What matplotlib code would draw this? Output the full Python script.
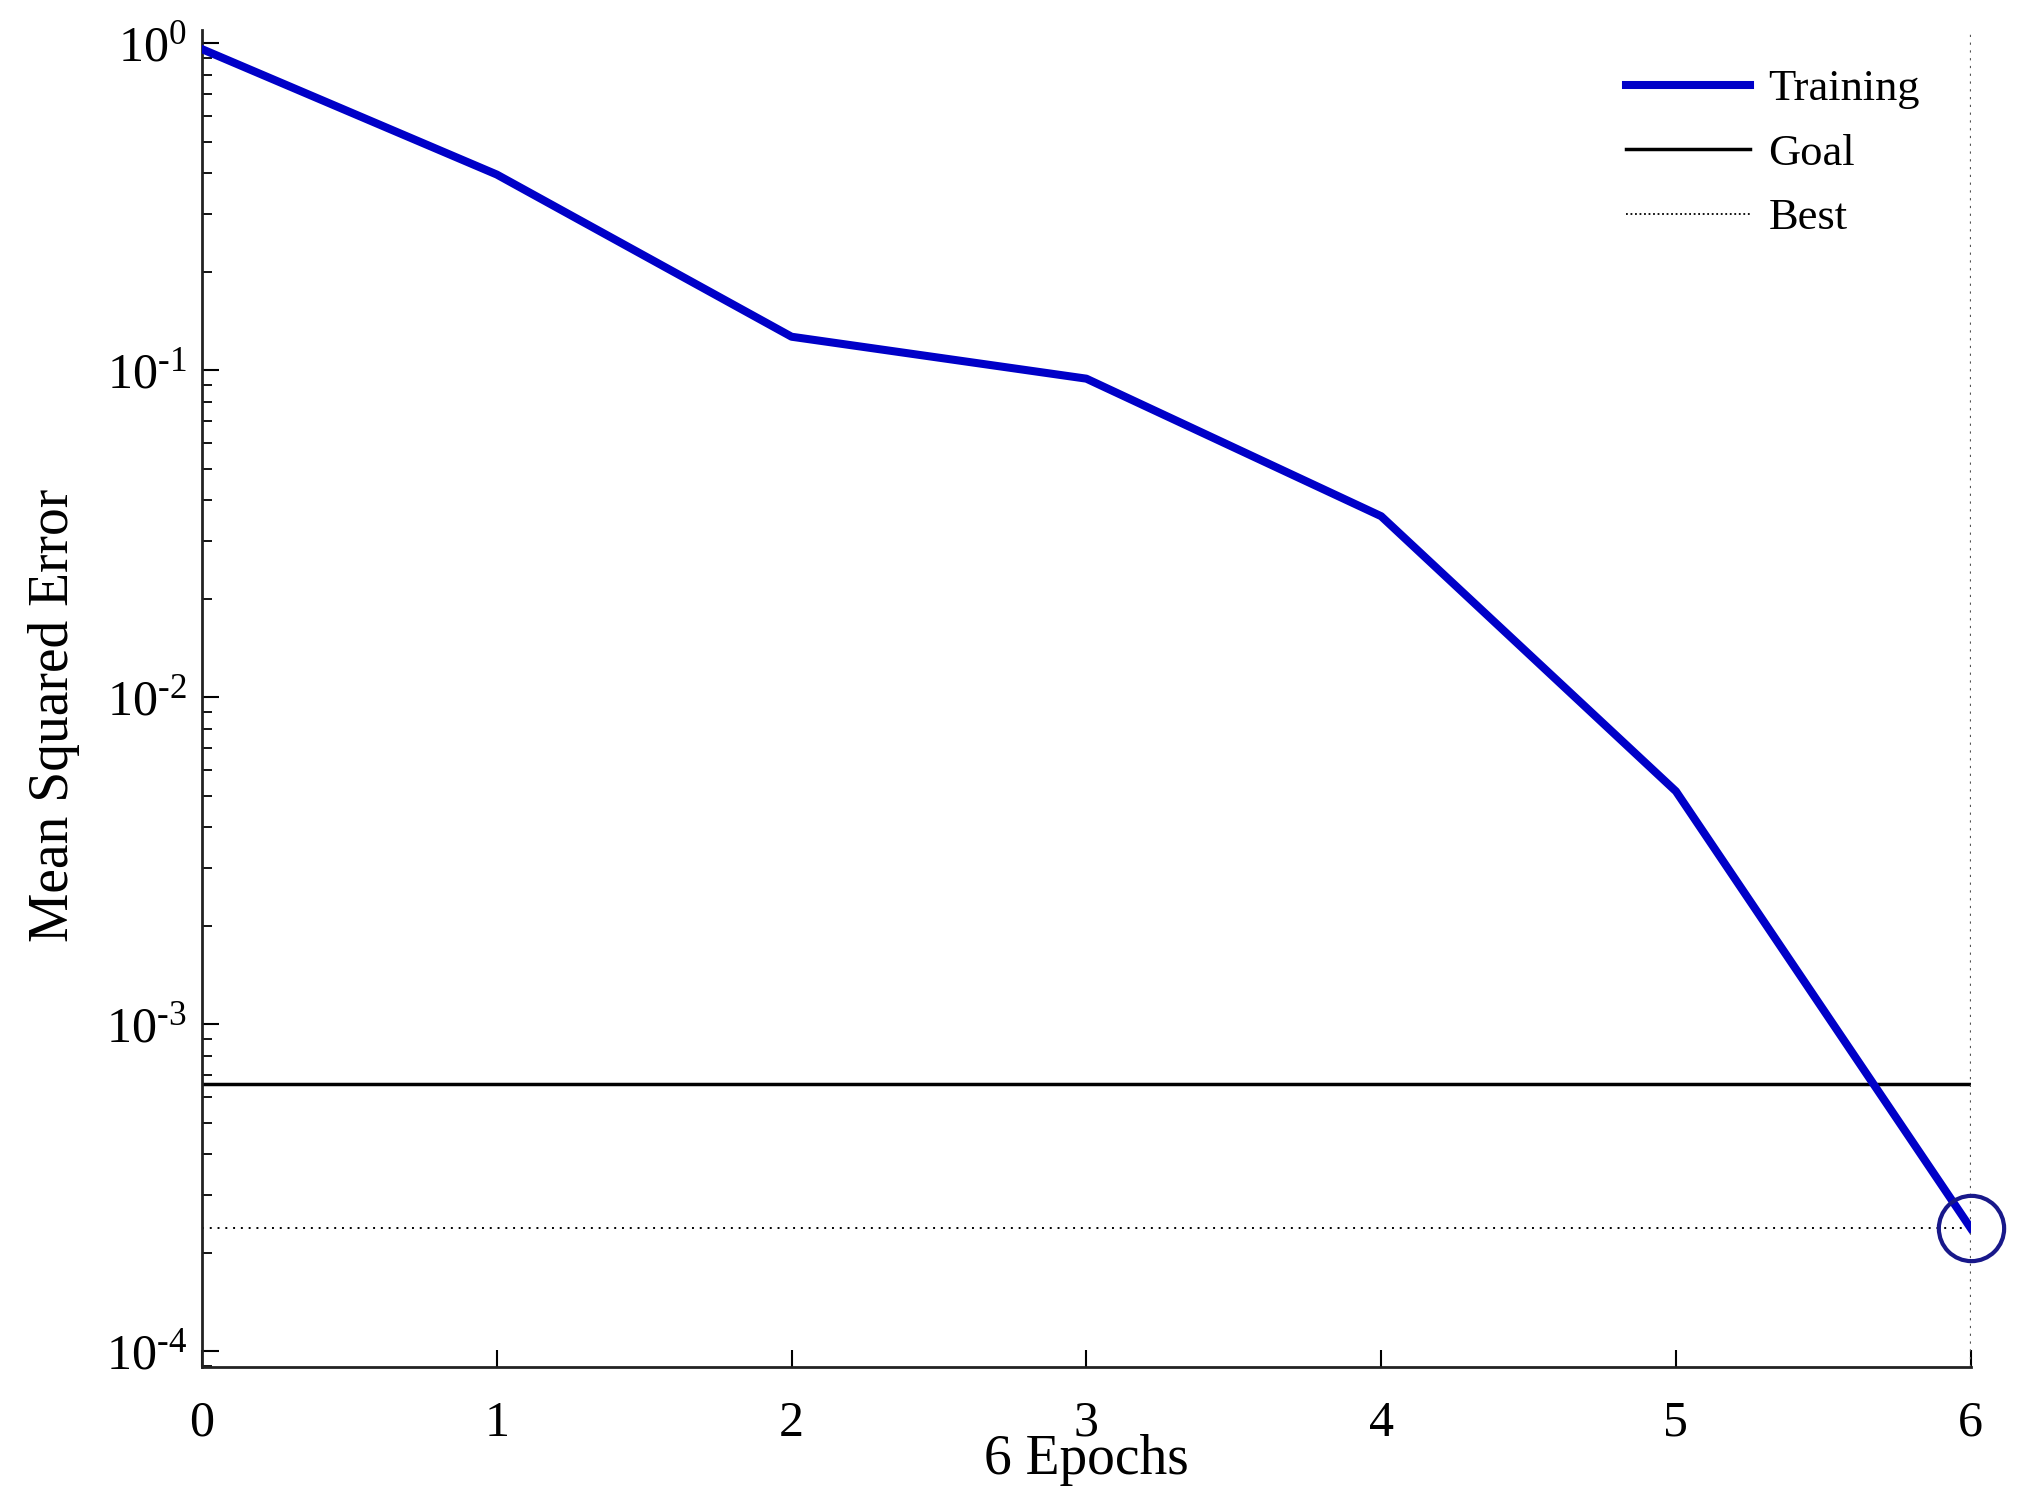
import matplotlib
matplotlib.use('Agg')
import matplotlib.pyplot as plt
from matplotlib.ticker import FixedLocator, FuncFormatter, LogLocator
from matplotlib.lines import Line2D
import numpy as np

plt.rcParams['font.family'] = ['Liberation Serif', 'DejaVu Serif']
plt.rcParams['mathtext.fontset'] = 'custom'
plt.rcParams['mathtext.rm'] = 'Liberation Serif'
plt.rcParams['mathtext.it'] = 'Liberation Serif:italic'
plt.rcParams['mathtext.bf'] = 'Liberation Serif:bold'

# training performance (mse per epoch)
epochs = [0, 1, 2, 3, 4, 5, 6]
train_mse = [0.96, 0.397, 0.1267, 0.0943, 0.0358, 0.00516, 0.000238]
goal = 0.000655
best_epoch = 6
best_mse = 0.000238

X_TICKS = [0, 1, 2, 3, 4, 5, 6]
Y_TICKS = [1e0, 1e-1, 1e-2, 1e-3, 1e-4]

BLUE = '#0000c8'

fig = plt.figure(figsize=(20.30, 15.03), dpi=100)
ax = fig.add_axes([0.0995, 0.0907, 0.8713, 0.8893])

ax.plot(epochs, train_mse, color=BLUE, lw=5.8, solid_joinstyle='round', zorder=3)
ax.axhline(goal, color='black', lw=2.5, zorder=2)
ax.axhline(best_mse, color='black', lw=1.4, ls=(0, (1, 3)), zorder=2)
ax.axvline(best_epoch, color='#555555', lw=1.6, ls=(0, (1, 2.5)), zorder=2)
ax.plot([best_epoch], [best_mse], 'o', ms=47, mfc='none', mec='#18188a',
        mew=3.0, zorder=4, clip_on=False)

ax.set_yscale('log')
ax.set_xlim(0, 6)
ax.set_ylim(10 ** -4.047, 10 ** 0.0406)

ax.xaxis.set_major_locator(FixedLocator(X_TICKS))
ax.yaxis.set_major_locator(FixedLocator(Y_TICKS))
ax.yaxis.set_minor_locator(LogLocator(base=10, subs=np.arange(2, 10), numticks=20))
ax.yaxis.set_minor_formatter(FuncFormatter(lambda v, p: ''))


def fmt_pow(v, pos):
    e = int(round(np.log10(v)))
    if e < 0:
        return r'$10^{\text{-}%d}$' % (-e)
    return r'$10^{%d}$' % e


ax.yaxis.set_major_formatter(FuncFormatter(fmt_pow))

ax.tick_params(axis='both', which='major', direction='in', length=12, width=1.5,
               labelsize=36, colors='black')
ax.tick_params(axis='y', which='minor', direction='in', length=7, width=1.3)
ax.tick_params(axis='x', which='major', pad=24)
ax.tick_params(axis='y', which='major', pad=11)

for s in ['top', 'right']:
    ax.spines[s].set_visible(False)
for s in ['left', 'bottom']:
    ax.spines[s].set_linewidth(2.0)
    ax.spines[s].set_color('#222222')

ax.set_xlabel('6 Epochs', fontsize=40)
ax.xaxis.set_label_coords(0.5, -0.050)
ax.set_ylabel('Mean Squared Error', fontsize=40)
ax.yaxis.set_label_coords(-0.069, 0.487)

handles = [
    Line2D([], [], color=BLUE, lw=5.8),
    Line2D([], [], color='black', lw=2.5),
    Line2D([], [], color='black', lw=1.3, ls=(0, (1, 1.5))),
]
leg = fig.legend(handles, ['Training', 'Goal', 'Best'], loc='upper left',
                 bbox_to_anchor=(0.801, 0.954), frameon=False, fontsize=32,
                 handlelength=2.8, handletextpad=0.4, labelspacing=0.55,
                 borderpad=0, borderaxespad=0)

fig.savefig('out.png', dpi=100, facecolor='white')
